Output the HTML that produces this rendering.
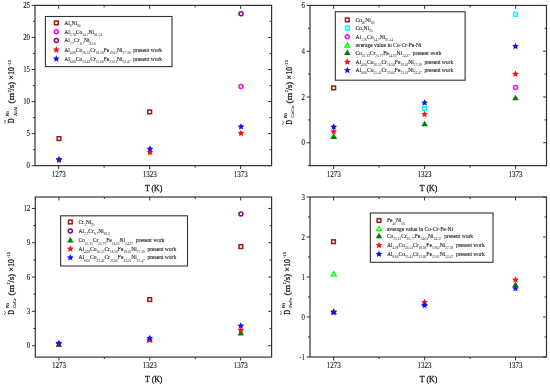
<!DOCTYPE html>
<html><head><meta charset="utf-8"><style>
html,body{margin:0;padding:0;background:#fff;}
body{width:550px;height:387px;overflow:hidden;}
svg{display:block;}
text{font-family:'Liberation Serif', 'Times New Roman', serif;fill:#1a1a1a;stroke:#1a1a1a;stroke-width:0.12px;}
.tk{font-size:8px;}
.al{font-size:8.3px;stroke-width:0.3px;}
.lg{font-size:5.85px;stroke-width:0.1px;}
.sb{font-size:3.7px;stroke-width:0px;}
.sp{font-size:4.4px;}
.sb2{font-size:4.4px;}
</style></head><body>
<svg width="550" height="387" viewBox="0 0 550 387">
<rect width="550" height="387" fill="#fff"/>
<rect x="35" y="5.4" width="236.6" height="160.25" fill="none" stroke="#333" stroke-width="1.2"/>
<line x1="58.66" y1="165.65" x2="58.66" y2="169.05" stroke="#333" stroke-width="1"/>
<line x1="58.66" y1="5.4" x2="58.66" y2="8.8" stroke="#333" stroke-width="1"/>
<text transform="translate(58.66,176.85) scale(0.925,1)" text-anchor="middle" class="tk" style="font-size:7.6px">1273</text>
<line x1="104.16" y1="165.65" x2="104.16" y2="167.65" stroke="#333" stroke-width="1"/>
<line x1="104.16" y1="5.4" x2="104.16" y2="7.4" stroke="#333" stroke-width="1"/>
<line x1="149.66" y1="165.65" x2="149.66" y2="169.05" stroke="#333" stroke-width="1"/>
<line x1="149.66" y1="5.4" x2="149.66" y2="8.8" stroke="#333" stroke-width="1"/>
<text transform="translate(149.66,176.85) scale(0.925,1)" text-anchor="middle" class="tk" style="font-size:7.6px">1323</text>
<line x1="195.16" y1="165.65" x2="195.16" y2="167.65" stroke="#333" stroke-width="1"/>
<line x1="195.16" y1="5.4" x2="195.16" y2="7.4" stroke="#333" stroke-width="1"/>
<line x1="240.66" y1="165.65" x2="240.66" y2="169.05" stroke="#333" stroke-width="1"/>
<line x1="240.66" y1="5.4" x2="240.66" y2="8.8" stroke="#333" stroke-width="1"/>
<text transform="translate(240.66,176.85) scale(0.925,1)" text-anchor="middle" class="tk" style="font-size:7.6px">1373</text>
<line x1="31.6" y1="165.65" x2="35" y2="165.65" stroke="#333" stroke-width="1"/>
<line x1="271.6" y1="165.65" x2="268.2" y2="165.65" stroke="#333" stroke-width="1"/>
<text transform="translate(30,168.35) scale(0.86,1)" text-anchor="end" class="tk">0</text>
<line x1="33" y1="149.62" x2="35" y2="149.62" stroke="#333" stroke-width="1"/>
<line x1="271.6" y1="149.62" x2="269.6" y2="149.62" stroke="#333" stroke-width="1"/>
<line x1="31.6" y1="133.6" x2="35" y2="133.6" stroke="#333" stroke-width="1"/>
<line x1="271.6" y1="133.6" x2="268.2" y2="133.6" stroke="#333" stroke-width="1"/>
<text transform="translate(30,136.3) scale(0.86,1)" text-anchor="end" class="tk">5</text>
<line x1="33" y1="117.58" x2="35" y2="117.58" stroke="#333" stroke-width="1"/>
<line x1="271.6" y1="117.58" x2="269.6" y2="117.58" stroke="#333" stroke-width="1"/>
<line x1="31.6" y1="101.55" x2="35" y2="101.55" stroke="#333" stroke-width="1"/>
<line x1="271.6" y1="101.55" x2="268.2" y2="101.55" stroke="#333" stroke-width="1"/>
<text transform="translate(30,104.25) scale(0.86,1)" text-anchor="end" class="tk">10</text>
<line x1="33" y1="85.53" x2="35" y2="85.53" stroke="#333" stroke-width="1"/>
<line x1="271.6" y1="85.53" x2="269.6" y2="85.53" stroke="#333" stroke-width="1"/>
<line x1="31.6" y1="69.5" x2="35" y2="69.5" stroke="#333" stroke-width="1"/>
<line x1="271.6" y1="69.5" x2="268.2" y2="69.5" stroke="#333" stroke-width="1"/>
<text transform="translate(30,72.2) scale(0.86,1)" text-anchor="end" class="tk">15</text>
<line x1="33" y1="53.48" x2="35" y2="53.48" stroke="#333" stroke-width="1"/>
<line x1="271.6" y1="53.48" x2="269.6" y2="53.48" stroke="#333" stroke-width="1"/>
<line x1="31.6" y1="37.45" x2="35" y2="37.45" stroke="#333" stroke-width="1"/>
<line x1="271.6" y1="37.45" x2="268.2" y2="37.45" stroke="#333" stroke-width="1"/>
<text transform="translate(30,40.15) scale(0.86,1)" text-anchor="end" class="tk">20</text>
<line x1="33" y1="21.43" x2="35" y2="21.43" stroke="#333" stroke-width="1"/>
<line x1="271.6" y1="21.43" x2="269.6" y2="21.43" stroke="#333" stroke-width="1"/>
<line x1="31.6" y1="5.4" x2="35" y2="5.4" stroke="#333" stroke-width="1"/>
<line x1="271.6" y1="5.4" x2="268.2" y2="5.4" stroke="#333" stroke-width="1"/>
<text transform="translate(30,8.1) scale(0.86,1)" text-anchor="end" class="tk">25</text>
<text transform="translate(153.6,190.65) scale(0.94,1)" text-anchor="middle" class="al">T (K)</text>
<rect x="310" y="5.45" width="236.5" height="160.2" fill="none" stroke="#333" stroke-width="1.2"/>
<line x1="333.65" y1="165.65" x2="333.65" y2="169.05" stroke="#333" stroke-width="1"/>
<line x1="333.65" y1="5.45" x2="333.65" y2="8.85" stroke="#333" stroke-width="1"/>
<text transform="translate(333.65,176.85) scale(0.925,1)" text-anchor="middle" class="tk" style="font-size:7.6px">1273</text>
<line x1="379.13" y1="165.65" x2="379.13" y2="167.65" stroke="#333" stroke-width="1"/>
<line x1="379.13" y1="5.45" x2="379.13" y2="7.45" stroke="#333" stroke-width="1"/>
<line x1="424.61" y1="165.65" x2="424.61" y2="169.05" stroke="#333" stroke-width="1"/>
<line x1="424.61" y1="5.45" x2="424.61" y2="8.85" stroke="#333" stroke-width="1"/>
<text transform="translate(424.61,176.85) scale(0.925,1)" text-anchor="middle" class="tk" style="font-size:7.6px">1323</text>
<line x1="470.09" y1="165.65" x2="470.09" y2="167.65" stroke="#333" stroke-width="1"/>
<line x1="470.09" y1="5.45" x2="470.09" y2="7.45" stroke="#333" stroke-width="1"/>
<line x1="515.57" y1="165.65" x2="515.57" y2="169.05" stroke="#333" stroke-width="1"/>
<line x1="515.57" y1="5.45" x2="515.57" y2="8.85" stroke="#333" stroke-width="1"/>
<text transform="translate(515.57,176.85) scale(0.925,1)" text-anchor="middle" class="tk" style="font-size:7.6px">1373</text>
<line x1="308" y1="165.65" x2="310" y2="165.65" stroke="#333" stroke-width="1"/>
<line x1="546.5" y1="165.65" x2="544.5" y2="165.65" stroke="#333" stroke-width="1"/>
<line x1="306.6" y1="142.76" x2="310" y2="142.76" stroke="#333" stroke-width="1"/>
<line x1="546.5" y1="142.76" x2="543.1" y2="142.76" stroke="#333" stroke-width="1"/>
<text transform="translate(305,145.46) scale(0.86,1)" text-anchor="end" class="tk">0</text>
<line x1="308" y1="119.88" x2="310" y2="119.88" stroke="#333" stroke-width="1"/>
<line x1="546.5" y1="119.88" x2="544.5" y2="119.88" stroke="#333" stroke-width="1"/>
<line x1="306.6" y1="96.99" x2="310" y2="96.99" stroke="#333" stroke-width="1"/>
<line x1="546.5" y1="96.99" x2="543.1" y2="96.99" stroke="#333" stroke-width="1"/>
<text transform="translate(305,99.69) scale(0.86,1)" text-anchor="end" class="tk">2</text>
<line x1="308" y1="74.11" x2="310" y2="74.11" stroke="#333" stroke-width="1"/>
<line x1="546.5" y1="74.11" x2="544.5" y2="74.11" stroke="#333" stroke-width="1"/>
<line x1="306.6" y1="51.22" x2="310" y2="51.22" stroke="#333" stroke-width="1"/>
<line x1="546.5" y1="51.22" x2="543.1" y2="51.22" stroke="#333" stroke-width="1"/>
<text transform="translate(305,53.92) scale(0.86,1)" text-anchor="end" class="tk">4</text>
<line x1="308" y1="28.34" x2="310" y2="28.34" stroke="#333" stroke-width="1"/>
<line x1="546.5" y1="28.34" x2="544.5" y2="28.34" stroke="#333" stroke-width="1"/>
<line x1="306.6" y1="5.45" x2="310" y2="5.45" stroke="#333" stroke-width="1"/>
<line x1="546.5" y1="5.45" x2="543.1" y2="5.45" stroke="#333" stroke-width="1"/>
<text transform="translate(305,8.15) scale(0.86,1)" text-anchor="end" class="tk">6</text>
<text transform="translate(428.55,190.65) scale(0.94,1)" text-anchor="middle" class="al">T (K)</text>
<rect x="35.3" y="197" width="236.3" height="160.1" fill="none" stroke="#333" stroke-width="1.2"/>
<line x1="58.93" y1="357.1" x2="58.93" y2="360.5" stroke="#333" stroke-width="1"/>
<line x1="58.93" y1="197" x2="58.93" y2="200.4" stroke="#333" stroke-width="1"/>
<text transform="translate(58.93,368.3) scale(0.925,1)" text-anchor="middle" class="tk" style="font-size:7.6px">1273</text>
<line x1="104.37" y1="357.1" x2="104.37" y2="359.1" stroke="#333" stroke-width="1"/>
<line x1="104.37" y1="197" x2="104.37" y2="199" stroke="#333" stroke-width="1"/>
<line x1="149.81" y1="357.1" x2="149.81" y2="360.5" stroke="#333" stroke-width="1"/>
<line x1="149.81" y1="197" x2="149.81" y2="200.4" stroke="#333" stroke-width="1"/>
<text transform="translate(149.81,368.3) scale(0.925,1)" text-anchor="middle" class="tk" style="font-size:7.6px">1323</text>
<line x1="195.26" y1="357.1" x2="195.26" y2="359.1" stroke="#333" stroke-width="1"/>
<line x1="195.26" y1="197" x2="195.26" y2="199" stroke="#333" stroke-width="1"/>
<line x1="240.7" y1="357.1" x2="240.7" y2="360.5" stroke="#333" stroke-width="1"/>
<line x1="240.7" y1="197" x2="240.7" y2="200.4" stroke="#333" stroke-width="1"/>
<text transform="translate(240.7,368.3) scale(0.925,1)" text-anchor="middle" class="tk" style="font-size:7.6px">1373</text>
<line x1="31.9" y1="345.66" x2="35.3" y2="345.66" stroke="#333" stroke-width="1"/>
<line x1="271.6" y1="345.66" x2="268.2" y2="345.66" stroke="#333" stroke-width="1"/>
<text transform="translate(30.3,348.36) scale(0.86,1)" text-anchor="end" class="tk">0</text>
<line x1="33.3" y1="328.51" x2="35.3" y2="328.51" stroke="#333" stroke-width="1"/>
<line x1="271.6" y1="328.51" x2="269.6" y2="328.51" stroke="#333" stroke-width="1"/>
<line x1="31.9" y1="311.36" x2="35.3" y2="311.36" stroke="#333" stroke-width="1"/>
<line x1="271.6" y1="311.36" x2="268.2" y2="311.36" stroke="#333" stroke-width="1"/>
<text transform="translate(30.3,314.06) scale(0.86,1)" text-anchor="end" class="tk">3</text>
<line x1="33.3" y1="294.2" x2="35.3" y2="294.2" stroke="#333" stroke-width="1"/>
<line x1="271.6" y1="294.2" x2="269.6" y2="294.2" stroke="#333" stroke-width="1"/>
<line x1="31.9" y1="277.05" x2="35.3" y2="277.05" stroke="#333" stroke-width="1"/>
<line x1="271.6" y1="277.05" x2="268.2" y2="277.05" stroke="#333" stroke-width="1"/>
<text transform="translate(30.3,279.75) scale(0.86,1)" text-anchor="end" class="tk">6</text>
<line x1="33.3" y1="259.9" x2="35.3" y2="259.9" stroke="#333" stroke-width="1"/>
<line x1="271.6" y1="259.9" x2="269.6" y2="259.9" stroke="#333" stroke-width="1"/>
<line x1="31.9" y1="242.74" x2="35.3" y2="242.74" stroke="#333" stroke-width="1"/>
<line x1="271.6" y1="242.74" x2="268.2" y2="242.74" stroke="#333" stroke-width="1"/>
<text transform="translate(30.3,245.44) scale(0.86,1)" text-anchor="end" class="tk">9</text>
<line x1="33.3" y1="225.59" x2="35.3" y2="225.59" stroke="#333" stroke-width="1"/>
<line x1="271.6" y1="225.59" x2="269.6" y2="225.59" stroke="#333" stroke-width="1"/>
<line x1="31.9" y1="208.44" x2="35.3" y2="208.44" stroke="#333" stroke-width="1"/>
<line x1="271.6" y1="208.44" x2="268.2" y2="208.44" stroke="#333" stroke-width="1"/>
<text transform="translate(30.3,211.14) scale(0.86,1)" text-anchor="end" class="tk">12</text>
<text transform="translate(153.75,382.1) scale(0.94,1)" text-anchor="middle" class="al">T (K)</text>
<rect x="310" y="197" width="236.5" height="160" fill="none" stroke="#333" stroke-width="1.2"/>
<line x1="333.65" y1="357" x2="333.65" y2="360.4" stroke="#333" stroke-width="1"/>
<line x1="333.65" y1="197" x2="333.65" y2="200.4" stroke="#333" stroke-width="1"/>
<text transform="translate(333.65,368.2) scale(0.925,1)" text-anchor="middle" class="tk" style="font-size:7.6px">1273</text>
<line x1="379.13" y1="357" x2="379.13" y2="359" stroke="#333" stroke-width="1"/>
<line x1="379.13" y1="197" x2="379.13" y2="199" stroke="#333" stroke-width="1"/>
<line x1="424.61" y1="357" x2="424.61" y2="360.4" stroke="#333" stroke-width="1"/>
<line x1="424.61" y1="197" x2="424.61" y2="200.4" stroke="#333" stroke-width="1"/>
<text transform="translate(424.61,368.2) scale(0.925,1)" text-anchor="middle" class="tk" style="font-size:7.6px">1323</text>
<line x1="470.09" y1="357" x2="470.09" y2="359" stroke="#333" stroke-width="1"/>
<line x1="470.09" y1="197" x2="470.09" y2="199" stroke="#333" stroke-width="1"/>
<line x1="515.57" y1="357" x2="515.57" y2="360.4" stroke="#333" stroke-width="1"/>
<line x1="515.57" y1="197" x2="515.57" y2="200.4" stroke="#333" stroke-width="1"/>
<text transform="translate(515.57,368.2) scale(0.925,1)" text-anchor="middle" class="tk" style="font-size:7.6px">1373</text>
<line x1="306.6" y1="357" x2="310" y2="357" stroke="#333" stroke-width="1"/>
<line x1="546.5" y1="357" x2="543.1" y2="357" stroke="#333" stroke-width="1"/>
<text transform="translate(305,359.7) scale(0.86,1)" text-anchor="end" class="tk">-1</text>
<line x1="308" y1="337" x2="310" y2="337" stroke="#333" stroke-width="1"/>
<line x1="546.5" y1="337" x2="544.5" y2="337" stroke="#333" stroke-width="1"/>
<line x1="306.6" y1="317" x2="310" y2="317" stroke="#333" stroke-width="1"/>
<line x1="546.5" y1="317" x2="543.1" y2="317" stroke="#333" stroke-width="1"/>
<text transform="translate(305,319.7) scale(0.86,1)" text-anchor="end" class="tk">0</text>
<line x1="308" y1="297" x2="310" y2="297" stroke="#333" stroke-width="1"/>
<line x1="546.5" y1="297" x2="544.5" y2="297" stroke="#333" stroke-width="1"/>
<line x1="306.6" y1="277" x2="310" y2="277" stroke="#333" stroke-width="1"/>
<line x1="546.5" y1="277" x2="543.1" y2="277" stroke="#333" stroke-width="1"/>
<text transform="translate(305,279.7) scale(0.86,1)" text-anchor="end" class="tk">1</text>
<line x1="308" y1="257" x2="310" y2="257" stroke="#333" stroke-width="1"/>
<line x1="546.5" y1="257" x2="544.5" y2="257" stroke="#333" stroke-width="1"/>
<line x1="306.6" y1="237" x2="310" y2="237" stroke="#333" stroke-width="1"/>
<line x1="546.5" y1="237" x2="543.1" y2="237" stroke="#333" stroke-width="1"/>
<text transform="translate(305,239.7) scale(0.86,1)" text-anchor="end" class="tk">2</text>
<line x1="308" y1="217" x2="310" y2="217" stroke="#333" stroke-width="1"/>
<line x1="546.5" y1="217" x2="544.5" y2="217" stroke="#333" stroke-width="1"/>
<line x1="306.6" y1="197" x2="310" y2="197" stroke="#333" stroke-width="1"/>
<line x1="546.5" y1="197" x2="543.1" y2="197" stroke="#333" stroke-width="1"/>
<text transform="translate(305,199.7) scale(0.86,1)" text-anchor="end" class="tk">3</text>
<text transform="translate(428.55,382) scale(0.94,1)" text-anchor="middle" class="al">T (K)</text>
<rect x="57.15" y="136.75" width="3.7" height="3.7" fill="#fff" stroke="#9e1616" stroke-width="1.5"/>
<rect x="147.85" y="110.05" width="3.7" height="3.7" fill="#fff" stroke="#9e1616" stroke-width="1.5"/>
<circle cx="241.00" cy="86.40" r="2.0" fill="#fff" stroke="#ff00ff" stroke-width="1.5"/>
<circle cx="241.00" cy="13.80" r="2.0" fill="#fff" stroke="#850085" stroke-width="1.5"/>
<polygon points="59.00,156.65 60.00,158.82 62.38,159.10 60.62,160.73 61.09,163.07 59.00,161.90 56.91,163.07 57.38,160.73 55.62,159.10 58.00,158.82" fill="#ff1010"/>
<polygon points="150.00,148.95 151.00,151.12 153.38,151.40 151.62,153.03 152.09,155.37 150.00,154.20 147.91,155.37 148.38,153.03 146.62,151.40 149.00,151.12" fill="#ff1010"/>
<polygon points="241.00,129.65 242.00,131.82 244.38,132.10 242.62,133.73 243.09,136.07 241.00,134.90 238.91,136.07 239.38,133.73 237.62,132.10 240.00,131.82" fill="#ff1010"/>
<polygon points="59.00,155.75 60.00,157.92 62.38,158.20 60.62,159.83 61.09,162.17 59.00,161.00 56.91,162.17 57.38,159.83 55.62,158.20 58.00,157.92" fill="#1010ff"/>
<polygon points="150.00,145.45 151.00,147.62 153.38,147.90 151.62,149.53 152.09,151.87 150.00,150.70 147.91,151.87 148.38,149.53 146.62,147.90 149.00,147.62" fill="#1010ff"/>
<polygon points="241.00,123.15 242.00,125.32 244.38,125.60 242.62,127.23 243.09,129.57 241.00,128.40 238.91,129.57 239.38,127.23 237.62,125.60 240.00,125.32" fill="#1010ff"/>
<rect x="45.4" y="16.5" width="126.6" height="50.1" fill="#fff" stroke="#333" stroke-width="1.1"/>
<rect x="54.45" y="21.05" width="3.7" height="3.7" fill="#fff" stroke="#9e1616" stroke-width="1.5"/>
<text transform="translate(64.2,24.7) scale(0.95,1)" class="lg"><tspan>Al</tspan><tspan class="sb" dy="2.2">6</tspan><tspan dy="-2.2">Ni</tspan><tspan class="sb" dy="2.2">94</tspan></text>
<circle cx="56.30" cy="31.70" r="2.0" fill="#fff" stroke="#ff00ff" stroke-width="1.5"/>
<text transform="translate(64.2,33.5) scale(0.95,1)" class="lg"><tspan>Al</tspan><tspan class="sb" dy="2.2">3.76</tspan><tspan dy="-2.2">Co</tspan><tspan class="sb" dy="2.2">14.7</tspan><tspan dy="-2.2">Ni</tspan><tspan class="sb" dy="2.2">81.54</tspan></text>
<circle cx="56.30" cy="40.50" r="2.0" fill="#fff" stroke="#850085" stroke-width="1.5"/>
<text transform="translate(64.2,42.3) scale(0.95,1)" class="lg"><tspan>Al</tspan><tspan class="sb" dy="2.2">7.7</tspan><tspan dy="-2.2">Cr</tspan><tspan class="sb" dy="2.2">8.7</tspan><tspan dy="-2.2">Ni</tspan><tspan class="sb" dy="2.2">83.6</tspan></text>
<polygon points="56.30,46.35 57.30,48.52 59.68,48.80 57.92,50.43 58.39,52.77 56.30,51.60 54.21,52.77 54.68,50.43 52.92,48.80 55.30,48.52" fill="#ff1010"/>
<text transform="translate(64.2,51.7) scale(0.95,1)" class="lg"><tspan>Al</tspan><tspan class="sb" dy="2.2">4.08</tspan><tspan dy="-2.2">Co</tspan><tspan class="sb" dy="2.2">26.53</tspan><tspan dy="-2.2">Cr</tspan><tspan class="sb" dy="2.2">18.58</tspan><tspan dy="-2.2">Fe</tspan><tspan class="sb" dy="2.2">19.62</tspan><tspan dy="-2.2">Ni</tspan><tspan class="sb" dy="2.2">27.38</tspan><tspan dy="-2.2">&#160; present work</tspan></text>
<polygon points="56.30,55.25 57.30,57.42 59.68,57.70 57.92,59.33 58.39,61.67 56.30,60.50 54.21,61.67 54.68,59.33 52.92,57.70 55.30,57.42" fill="#1010ff"/>
<text transform="translate(64.2,60.6) scale(0.95,1)" class="lg"><tspan>Al</tspan><tspan class="sb" dy="2.2">8.66</tspan><tspan dy="-2.2">Co</tspan><tspan class="sb" dy="2.2">23.42</tspan><tspan dy="-2.2">Cr</tspan><tspan class="sb" dy="2.2">23.66</tspan><tspan dy="-2.2">Fe</tspan><tspan class="sb" dy="2.2">23.01</tspan><tspan dy="-2.2">Ni</tspan><tspan class="sb" dy="2.2">22.47</tspan><tspan dy="-2.2">&#160; present work</tspan></text>
<g transform="translate(14.2,123.4) rotate(-90)"><text transform="translate(0.1,0) scale(0.8,1)" class="al">D</text><text x="-0.3" y="-6.1" style="font-size:7.4px">~</text><text x="7.0" y="-5.0" class="sp" textLength="5" lengthAdjust="spacingAndGlyphs">Ni</text><text x="7.2" y="2.4" class="sb2" textLength="9.7" lengthAdjust="spacingAndGlyphs">AlAl</text><text x="19.80" y="0" class="al" textLength="10.8" lengthAdjust="spacingAndGlyphs">(m</text><text x="31.00" y="-3.6" class="sp">2</text><text x="33.00" y="0" class="al" textLength="8.4" lengthAdjust="spacingAndGlyphs">/s)</text><text x="43.60" y="0" class="al">×</text><text x="48.70" y="0" class="al" textLength="7.6" lengthAdjust="spacingAndGlyphs">10</text><text x="57.10" y="-3.6" class="sp" textLength="6.3" lengthAdjust="spacingAndGlyphs">-15</text></g>
<rect x="331.85" y="86.05" width="3.7" height="3.7" fill="#fff" stroke="#9e1616" stroke-width="1.5"/>
<rect x="422.75" y="106.75" width="3.7" height="3.7" fill="#fff" stroke="#00ffff" stroke-width="1.5"/>
<rect x="513.65" y="12.55" width="3.7" height="3.7" fill="#fff" stroke="#00ffff" stroke-width="1.5"/>
<circle cx="515.50" cy="87.60" r="2.0" fill="#fff" stroke="#ff00ff" stroke-width="1.5"/>
<polygon points="333.70,134.45 331.20,138.45 336.20,138.45" fill="#fff" stroke="#00ff00" stroke-width="1.3" stroke-linejoin="miter"/>
<polygon points="333.70,133.45 330.45,138.95 336.95,138.95" fill="#008000"/>
<polygon points="424.60,120.85 421.35,126.35 427.85,126.35" fill="#008000"/>
<polygon points="515.50,94.85 512.25,100.35 518.75,100.35" fill="#008000"/>
<polygon points="333.70,128.05 334.70,130.22 337.08,130.50 335.32,132.13 335.79,134.47 333.70,133.30 331.61,134.47 332.08,132.13 330.32,130.50 332.70,130.22" fill="#ff1010"/>
<polygon points="424.60,110.75 425.60,112.92 427.98,113.20 426.22,114.83 426.69,117.17 424.60,116.00 422.51,117.17 422.98,114.83 421.22,113.20 423.60,112.92" fill="#ff1010"/>
<polygon points="515.50,70.55 516.50,72.72 518.88,73.00 517.12,74.63 517.59,76.97 515.50,75.80 513.41,76.97 513.88,74.63 512.12,73.00 514.50,72.72" fill="#ff1010"/>
<polygon points="333.70,123.45 334.70,125.62 337.08,125.90 335.32,127.53 335.79,129.87 333.70,128.70 331.61,129.87 332.08,127.53 330.32,125.90 332.70,125.62" fill="#1010ff"/>
<polygon points="424.60,99.25 425.60,101.42 427.98,101.70 426.22,103.33 426.69,105.67 424.60,104.50 422.51,105.67 422.98,103.33 421.22,101.70 423.60,101.42" fill="#1010ff"/>
<polygon points="515.50,42.75 516.50,44.92 518.88,45.20 517.12,46.83 517.59,49.17 515.50,48.00 513.41,49.17 513.88,46.83 512.12,45.20 514.50,44.92" fill="#1010ff"/>
<rect x="335.3" y="11.7" width="129.8" height="68.5" fill="#fff" stroke="#333" stroke-width="1.1"/>
<rect x="345.45" y="18.05" width="3.7" height="3.7" fill="#fff" stroke="#9e1616" stroke-width="1.5"/>
<text transform="translate(355.4,21.7) scale(0.95,1)" class="lg"><tspan>Co</tspan><tspan class="sb" dy="2.2">40</tspan><tspan dy="-2.2">Ni</tspan><tspan class="sb" dy="2.2">60</tspan></text>
<rect x="345.45" y="26.35" width="3.7" height="3.7" fill="#fff" stroke="#00ffff" stroke-width="1.5"/>
<text transform="translate(355.4,30) scale(0.95,1)" class="lg"><tspan>Co</tspan><tspan class="sb" dy="2.2">5</tspan><tspan dy="-2.2">Ni</tspan><tspan class="sb" dy="2.2">95</tspan></text>
<circle cx="347.30" cy="36.80" r="2.0" fill="#fff" stroke="#ff00ff" stroke-width="1.5"/>
<text transform="translate(355.4,38.6) scale(0.95,1)" class="lg"><tspan>Al</tspan><tspan class="sb" dy="2.2">3.76</tspan><tspan dy="-2.2">Co</tspan><tspan class="sb" dy="2.2">14.7</tspan><tspan dy="-2.2">Ni</tspan><tspan class="sb" dy="2.2">81.54</tspan></text>
<polygon points="347.30,43.05 344.80,47.05 349.80,47.05" fill="#fff" stroke="#00ff00" stroke-width="1.3" stroke-linejoin="miter"/>
<text transform="translate(355.4,47.4) scale(0.95,1)" class="lg">average value in Co-Cr-Fe-Ni</text>
<polygon points="347.30,49.45 344.05,54.95 350.55,54.95" fill="#008000"/>
<text transform="translate(355.4,54.7) scale(0.95,1)" class="lg"><tspan>Co</tspan><tspan class="sb" dy="2.2">25.13</tspan><tspan dy="-2.2">Cr</tspan><tspan class="sb" dy="2.2">25.77</tspan><tspan dy="-2.2">Fe</tspan><tspan class="sb" dy="2.2">24.03</tspan><tspan dy="-2.2">Ni</tspan><tspan class="sb" dy="2.2">24.37</tspan><tspan dy="-2.2">&#160; present work</tspan></text>
<polygon points="347.30,58.45 348.30,60.62 350.68,60.90 348.92,62.53 349.39,64.87 347.30,63.70 345.21,64.87 345.68,62.53 343.92,60.90 346.30,60.62" fill="#ff1010"/>
<text transform="translate(355.4,63.8) scale(0.95,1)" class="lg"><tspan>Al</tspan><tspan class="sb" dy="2.2">4.08</tspan><tspan dy="-2.2">Co</tspan><tspan class="sb" dy="2.2">26.53</tspan><tspan dy="-2.2">Cr</tspan><tspan class="sb" dy="2.2">18.58</tspan><tspan dy="-2.2">Fe</tspan><tspan class="sb" dy="2.2">19.62</tspan><tspan dy="-2.2">Ni</tspan><tspan class="sb" dy="2.2">27.38</tspan><tspan dy="-2.2">&#160; present work</tspan></text>
<polygon points="347.30,66.75 348.30,68.92 350.68,69.20 348.92,70.83 349.39,73.17 347.30,72.00 345.21,73.17 345.68,70.83 343.92,69.20 346.30,68.92" fill="#1010ff"/>
<text transform="translate(355.4,72.1) scale(0.95,1)" class="lg"><tspan>Al</tspan><tspan class="sb" dy="2.2">8.66</tspan><tspan dy="-2.2">Co</tspan><tspan class="sb" dy="2.2">23.42</tspan><tspan dy="-2.2">Cr</tspan><tspan class="sb" dy="2.2">23.66</tspan><tspan dy="-2.2">Fe</tspan><tspan class="sb" dy="2.2">23.01</tspan><tspan dy="-2.2">Ni</tspan><tspan class="sb" dy="2.2">22.47</tspan><tspan dy="-2.2">&#160; present work</tspan></text>
<g transform="translate(291.7,124.9) rotate(-90)"><text transform="translate(0.1,0) scale(0.8,1)" class="al">D</text><text x="-0.3" y="-6.1" style="font-size:7.4px">~</text><text x="7.0" y="-5.0" class="sp" textLength="5" lengthAdjust="spacingAndGlyphs">Ni</text><text x="7.2" y="2.4" class="sb2" textLength="11.9" lengthAdjust="spacingAndGlyphs">CoCo</text><text x="21.40" y="0" class="al" textLength="10.8" lengthAdjust="spacingAndGlyphs">(m</text><text x="32.60" y="-3.6" class="sp">2</text><text x="34.60" y="0" class="al" textLength="8.4" lengthAdjust="spacingAndGlyphs">/s)</text><text x="45.20" y="0" class="al">×</text><text x="50.30" y="0" class="al" textLength="7.6" lengthAdjust="spacingAndGlyphs">10</text><text x="58.70" y="-3.6" class="sp" textLength="6.3" lengthAdjust="spacingAndGlyphs">-15</text></g>
<rect x="147.85" y="297.75" width="3.7" height="3.7" fill="#fff" stroke="#9e1616" stroke-width="1.5"/>
<rect x="239.05" y="244.75" width="3.7" height="3.7" fill="#fff" stroke="#9e1616" stroke-width="1.5"/>
<circle cx="240.90" cy="214.00" r="2.0" fill="#fff" stroke="#850085" stroke-width="1.5"/>
<polygon points="58.80,341.55 55.55,347.05 62.05,347.05" fill="#008000"/>
<polygon points="149.70,336.75 146.45,342.25 152.95,342.25" fill="#008000"/>
<polygon points="240.80,330.05 237.55,335.55 244.05,335.55" fill="#008000"/>
<polygon points="58.80,340.45 59.80,342.62 62.18,342.90 60.42,344.53 60.89,346.87 58.80,345.70 56.71,346.87 57.18,344.53 55.42,342.90 57.80,342.62" fill="#ff1010"/>
<polygon points="149.70,336.45 150.70,338.62 153.08,338.90 151.32,340.53 151.79,342.87 149.70,341.70 147.61,342.87 148.08,340.53 146.32,338.90 148.70,338.62" fill="#ff1010"/>
<polygon points="240.80,326.65 241.80,328.82 244.18,329.10 242.42,330.73 242.89,333.07 240.80,331.90 238.71,333.07 239.18,330.73 237.42,329.10 239.80,328.82" fill="#ff1010"/>
<polygon points="58.80,339.65 59.80,341.82 62.18,342.10 60.42,343.73 60.89,346.07 58.80,344.90 56.71,346.07 57.18,343.73 55.42,342.10 57.80,341.82" fill="#1010ff"/>
<polygon points="149.70,334.65 150.70,336.82 153.08,337.10 151.32,338.73 151.79,341.07 149.70,339.90 147.61,341.07 148.08,338.73 146.32,337.10 148.70,336.82" fill="#1010ff"/>
<polygon points="240.80,322.35 241.80,324.52 244.18,324.80 242.42,326.43 242.89,328.77 240.80,327.60 238.71,328.77 239.18,326.43 237.42,324.80 239.80,324.52" fill="#1010ff"/>
<rect x="60.6" y="215.8" width="126.9" height="50.2" fill="#fff" stroke="#333" stroke-width="1.1"/>
<rect x="68.45" y="220.15" width="3.7" height="3.7" fill="#fff" stroke="#9e1616" stroke-width="1.5"/>
<text transform="translate(78.4,223.8) scale(0.95,1)" class="lg"><tspan>Cr</tspan><tspan class="sb" dy="2.2">5</tspan><tspan dy="-2.2">Ni</tspan><tspan class="sb" dy="2.2">95</tspan></text>
<circle cx="70.30" cy="230.90" r="2.0" fill="#fff" stroke="#850085" stroke-width="1.5"/>
<text transform="translate(78.4,232.7) scale(0.95,1)" class="lg"><tspan>Al</tspan><tspan class="sb" dy="2.2">7.7</tspan><tspan dy="-2.2">Cr</tspan><tspan class="sb" dy="2.2">8.7</tspan><tspan dy="-2.2">Ni</tspan><tspan class="sb" dy="2.2">83.6</tspan></text>
<polygon points="70.30,237.05 67.05,242.55 73.55,242.55" fill="#008000"/>
<text transform="translate(78.4,242.3) scale(0.95,1)" class="lg"><tspan>Co</tspan><tspan class="sb" dy="2.2">25.13</tspan><tspan dy="-2.2">Cr</tspan><tspan class="sb" dy="2.2">25.77</tspan><tspan dy="-2.2">Fe</tspan><tspan class="sb" dy="2.2">24.03</tspan><tspan dy="-2.2">Ni</tspan><tspan class="sb" dy="2.2">24.37</tspan><tspan dy="-2.2">&#160; present work</tspan></text>
<polygon points="70.30,245.35 71.30,247.52 73.68,247.80 71.92,249.43 72.39,251.77 70.30,250.60 68.21,251.77 68.68,249.43 66.92,247.80 69.30,247.52" fill="#ff1010"/>
<text transform="translate(78.4,250.7) scale(0.95,1)" class="lg"><tspan>Al</tspan><tspan class="sb" dy="2.2">4.08</tspan><tspan dy="-2.2">Co</tspan><tspan class="sb" dy="2.2">26.53</tspan><tspan dy="-2.2">Cr</tspan><tspan class="sb" dy="2.2">18.58</tspan><tspan dy="-2.2">Fe</tspan><tspan class="sb" dy="2.2">19.62</tspan><tspan dy="-2.2">Ni</tspan><tspan class="sb" dy="2.2">27.38</tspan><tspan dy="-2.2">&#160; present work</tspan></text>
<polygon points="70.30,254.05 71.30,256.22 73.68,256.50 71.92,258.13 72.39,260.47 70.30,259.30 68.21,260.47 68.68,258.13 66.92,256.50 69.30,256.22" fill="#1010ff"/>
<text transform="translate(78.4,259.4) scale(0.95,1)" class="lg"><tspan>Al</tspan><tspan class="sb" dy="2.2">8.66</tspan><tspan dy="-2.2">Co</tspan><tspan class="sb" dy="2.2">23.42</tspan><tspan dy="-2.2">Cr</tspan><tspan class="sb" dy="2.2">23.66</tspan><tspan dy="-2.2">Fe</tspan><tspan class="sb" dy="2.2">23.01</tspan><tspan dy="-2.2">Ni</tspan><tspan class="sb" dy="2.2">22.47</tspan><tspan dy="-2.2">&#160; present work</tspan></text>
<g transform="translate(13.8,314.9) rotate(-90)"><text transform="translate(0.1,0) scale(0.8,1)" class="al">D</text><text x="-0.3" y="-6.1" style="font-size:7.4px">~</text><text x="7.0" y="-5.0" class="sp" textLength="5" lengthAdjust="spacingAndGlyphs">Ni</text><text x="7.2" y="2.4" class="sb2" textLength="9.3" lengthAdjust="spacingAndGlyphs">CrCr</text><text x="19.30" y="0" class="al" textLength="10.8" lengthAdjust="spacingAndGlyphs">(m</text><text x="30.50" y="-3.6" class="sp">2</text><text x="32.50" y="0" class="al" textLength="8.4" lengthAdjust="spacingAndGlyphs">/s)</text><text x="43.10" y="0" class="al">×</text><text x="48.20" y="0" class="al" textLength="7.6" lengthAdjust="spacingAndGlyphs">10</text><text x="56.60" y="-3.6" class="sp" textLength="6.3" lengthAdjust="spacingAndGlyphs">-15</text></g>
<rect x="331.65" y="239.85" width="3.7" height="3.7" fill="#fff" stroke="#9e1616" stroke-width="1.5"/>
<polygon points="333.70,271.85 331.20,275.85 336.20,275.85" fill="#fff" stroke="#00ff00" stroke-width="1.3" stroke-linejoin="miter"/>
<polygon points="333.70,308.75 330.45,314.25 336.95,314.25" fill="#008000"/>
<polygon points="424.50,300.45 421.25,305.95 427.75,305.95" fill="#008000"/>
<polygon points="515.50,281.45 512.25,286.95 518.75,286.95" fill="#008000"/>
<polygon points="333.70,308.05 334.70,310.22 337.08,310.50 335.32,312.13 335.79,314.47 333.70,313.30 331.61,314.47 332.08,312.13 330.32,310.50 332.70,310.22" fill="#ff1010"/>
<polygon points="424.50,298.75 425.50,300.92 427.88,301.20 426.12,302.83 426.59,305.17 424.50,304.00 422.41,305.17 422.88,302.83 421.12,301.20 423.50,300.92" fill="#ff1010"/>
<polygon points="515.50,276.35 516.50,278.52 518.88,278.80 517.12,280.43 517.59,282.77 515.50,281.60 513.41,282.77 513.88,280.43 512.12,278.80 514.50,278.52" fill="#ff1010"/>
<polygon points="333.70,308.75 334.70,310.92 337.08,311.20 335.32,312.83 335.79,315.17 333.70,314.00 331.61,315.17 332.08,312.83 330.32,311.20 332.70,310.92" fill="#1010ff"/>
<polygon points="424.50,301.85 425.50,304.02 427.88,304.30 426.12,305.93 426.59,308.27 424.50,307.10 422.41,308.27 422.88,305.93 421.12,304.30 423.50,304.02" fill="#1010ff"/>
<polygon points="515.50,284.95 516.50,287.12 518.88,287.40 517.12,289.03 517.59,291.37 515.50,290.20 513.41,291.37 513.88,289.03 512.12,287.40 514.50,287.12" fill="#1010ff"/>
<rect x="370.4" y="213" width="122.6" height="49.3" fill="#fff" stroke="#333" stroke-width="1.1"/>
<rect x="377.15" y="218.65" width="3.7" height="3.7" fill="#fff" stroke="#9e1616" stroke-width="1.5"/>
<text transform="translate(386.9,222.3) scale(0.95,1)" class="lg"><tspan>Fe</tspan><tspan class="sb" dy="2.2">40</tspan><tspan dy="-2.2">Ni</tspan><tspan class="sb" dy="2.2">60</tspan></text>
<polygon points="379.00,226.65 376.50,230.65 381.50,230.65" fill="#fff" stroke="#00ff00" stroke-width="1.3" stroke-linejoin="miter"/>
<text transform="translate(386.9,231) scale(0.95,1)" class="lg">average value in Co-Cr-Fe-Ni</text>
<polygon points="379.00,232.85 375.75,238.35 382.25,238.35" fill="#008000"/>
<text transform="translate(386.9,238.1) scale(0.95,1)" class="lg"><tspan>Co</tspan><tspan class="sb" dy="2.2">25.13</tspan><tspan dy="-2.2">Cr</tspan><tspan class="sb" dy="2.2">25.77</tspan><tspan dy="-2.2">Fe</tspan><tspan class="sb" dy="2.2">24.03</tspan><tspan dy="-2.2">Ni</tspan><tspan class="sb" dy="2.2">24.37</tspan><tspan dy="-2.2">&#160; present work</tspan></text>
<polygon points="379.00,241.75 380.00,243.92 382.38,244.20 380.62,245.83 381.09,248.17 379.00,247.00 376.91,248.17 377.38,245.83 375.62,244.20 378.00,243.92" fill="#ff1010"/>
<text transform="translate(386.9,247.1) scale(0.95,1)" class="lg"><tspan>Al</tspan><tspan class="sb" dy="2.2">4.08</tspan><tspan dy="-2.2">Co</tspan><tspan class="sb" dy="2.2">26.53</tspan><tspan dy="-2.2">Cr</tspan><tspan class="sb" dy="2.2">18.58</tspan><tspan dy="-2.2">Fe</tspan><tspan class="sb" dy="2.2">19.62</tspan><tspan dy="-2.2">Ni</tspan><tspan class="sb" dy="2.2">27.38</tspan><tspan dy="-2.2">&#160; present work</tspan></text>
<polygon points="379.00,250.55 380.00,252.72 382.38,253.00 380.62,254.63 381.09,256.97 379.00,255.80 376.91,256.97 377.38,254.63 375.62,253.00 378.00,252.72" fill="#1010ff"/>
<text transform="translate(386.9,255.9) scale(0.95,1)" class="lg"><tspan>Al</tspan><tspan class="sb" dy="2.2">8.66</tspan><tspan dy="-2.2">Co</tspan><tspan class="sb" dy="2.2">23.42</tspan><tspan dy="-2.2">Cr</tspan><tspan class="sb" dy="2.2">23.66</tspan><tspan dy="-2.2">Fe</tspan><tspan class="sb" dy="2.2">23.01</tspan><tspan dy="-2.2">Ni</tspan><tspan class="sb" dy="2.2">22.47</tspan><tspan dy="-2.2">&#160; present work</tspan></text>
<g transform="translate(289.9,314.9) rotate(-90)"><text transform="translate(0.1,0) scale(0.8,1)" class="al">D</text><text x="-0.3" y="-6.1" style="font-size:7.4px">~</text><text x="7.0" y="-5.0" class="sp" textLength="5" lengthAdjust="spacingAndGlyphs">Ni</text><text x="7.2" y="2.4" class="sb2" textLength="9.8" lengthAdjust="spacingAndGlyphs">FeFe</text><text x="19.30" y="0" class="al" textLength="10.8" lengthAdjust="spacingAndGlyphs">(m</text><text x="30.50" y="-3.6" class="sp">2</text><text x="32.50" y="0" class="al" textLength="8.4" lengthAdjust="spacingAndGlyphs">/s)</text><text x="43.10" y="0" class="al">×</text><text x="48.20" y="0" class="al" textLength="7.6" lengthAdjust="spacingAndGlyphs">10</text><text x="56.60" y="-3.6" class="sp" textLength="6.3" lengthAdjust="spacingAndGlyphs">-15</text></g>
</svg></body></html>
